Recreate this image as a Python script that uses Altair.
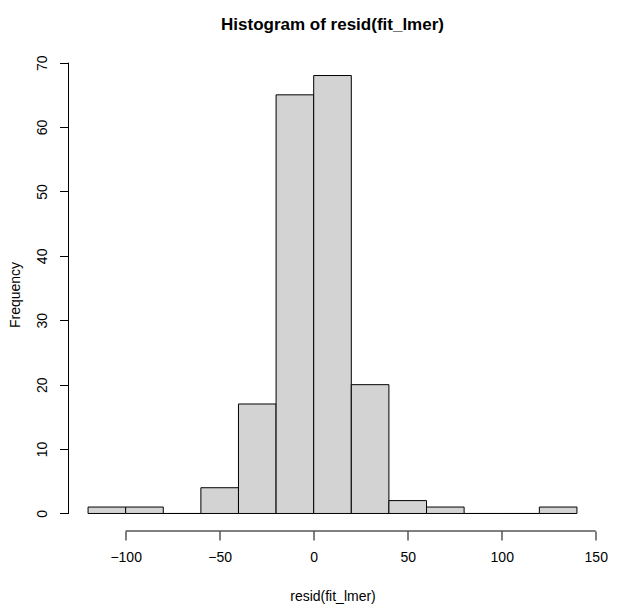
import altair as alt
import pandas as pd

bin_start = [-120, -100, -80, -60, -40, -20, 0, 20, 40, 60, 80, 100, 120]
bin_end = [-100, -80, -60, -40, -20, 0, 20, 40, 60, 80, 100, 120, 140]
counts = [1, 1, 0, 4, 17, 65, 68, 20, 2, 1, 0, 0, 1]
x_ticks = [-100, -50, 0, 50, 100, 150]
y_ticks = [0, 10, 20, 30, 40, 50, 60, 70]

df = pd.DataFrame({"start": bin_start, "end": bin_end, "count": counts, "base": [0] * len(counts)})

W, H = 528, 473
FONT = "Liberation Sans"

x_dom = [-130.4, 150.4]
y_dom = [-2.72, 70.72]

xs = alt.Scale(domain=x_dom, nice=False, zero=False)
ys = alt.Scale(domain=y_dom, nice=False, zero=False)

bars = alt.Chart(df).mark_rect(fill="#D3D3D3", stroke="black", strokeWidth=1).encode(
    x=alt.X("start:Q", scale=xs, axis=alt.Axis(
        values=x_ticks, title="resid(fit_lmer)", domain=False, grid=False,
        tickSize=9, tickColor="black", labelColor="black", labelFontSize=14,
        labelFont=FONT, labelPadding=10, titleFont=FONT, titleFontSize=14,
        titleFontWeight="normal", titleColor="black", titlePadding=25, labelFlush=False)),
    x2="end:Q",
    y=alt.Y("count:Q", scale=ys, axis=alt.Axis(
        values=y_ticks, title="Frequency", domain=False, grid=False,
        tickSize=9, tickColor="black", labelColor="black", labelFontSize=14,
        labelFont=FONT, labelPadding=10, labelAngle=270, labelAlign="center",
        labelBaseline="bottom", titleFont=FONT, titleFontSize=14,
        titleFontWeight="normal", titleColor="black", titlePadding=13, labelFlush=False)),
    y2="base:Q",
)

xline_df = pd.DataFrame({"a": [min(x_ticks)], "b": [max(x_ticks)]})
xline = alt.Chart(xline_df).mark_rule(color="black", strokeWidth=1).encode(
    x=alt.X("a:Q", scale=xs), x2="b:Q", y=alt.value(H))

yline_df = pd.DataFrame({"a": [min(y_ticks)], "b": [max(y_ticks)]})
yline = alt.Chart(yline_df).mark_rule(color="black", strokeWidth=1).encode(
    y=alt.Y("a:Q", scale=ys), y2="b:Q", x=alt.value(0))

chart = alt.layer(bars, xline, yline).properties(
    width=W, height=H,
    background="white",
    title=alt.TitleParams("Histogram of resid(fit_lmer)", font=FONT, fontSize=17,
                          fontWeight="bold", color="black", anchor="middle",
                          frame="group", offset=21),
    autosize=alt.AutoSizeParams(type="none"),
    padding={"left": 60.5, "top": 50, "right": 19.5, "bottom": 77},
).configure_view(strokeWidth=0, strokeOpacity=0).configure_axis(
    grid=False, domain=False
)

chart.save("out.html", embed_options={"renderer": "svg", "actions": False})
